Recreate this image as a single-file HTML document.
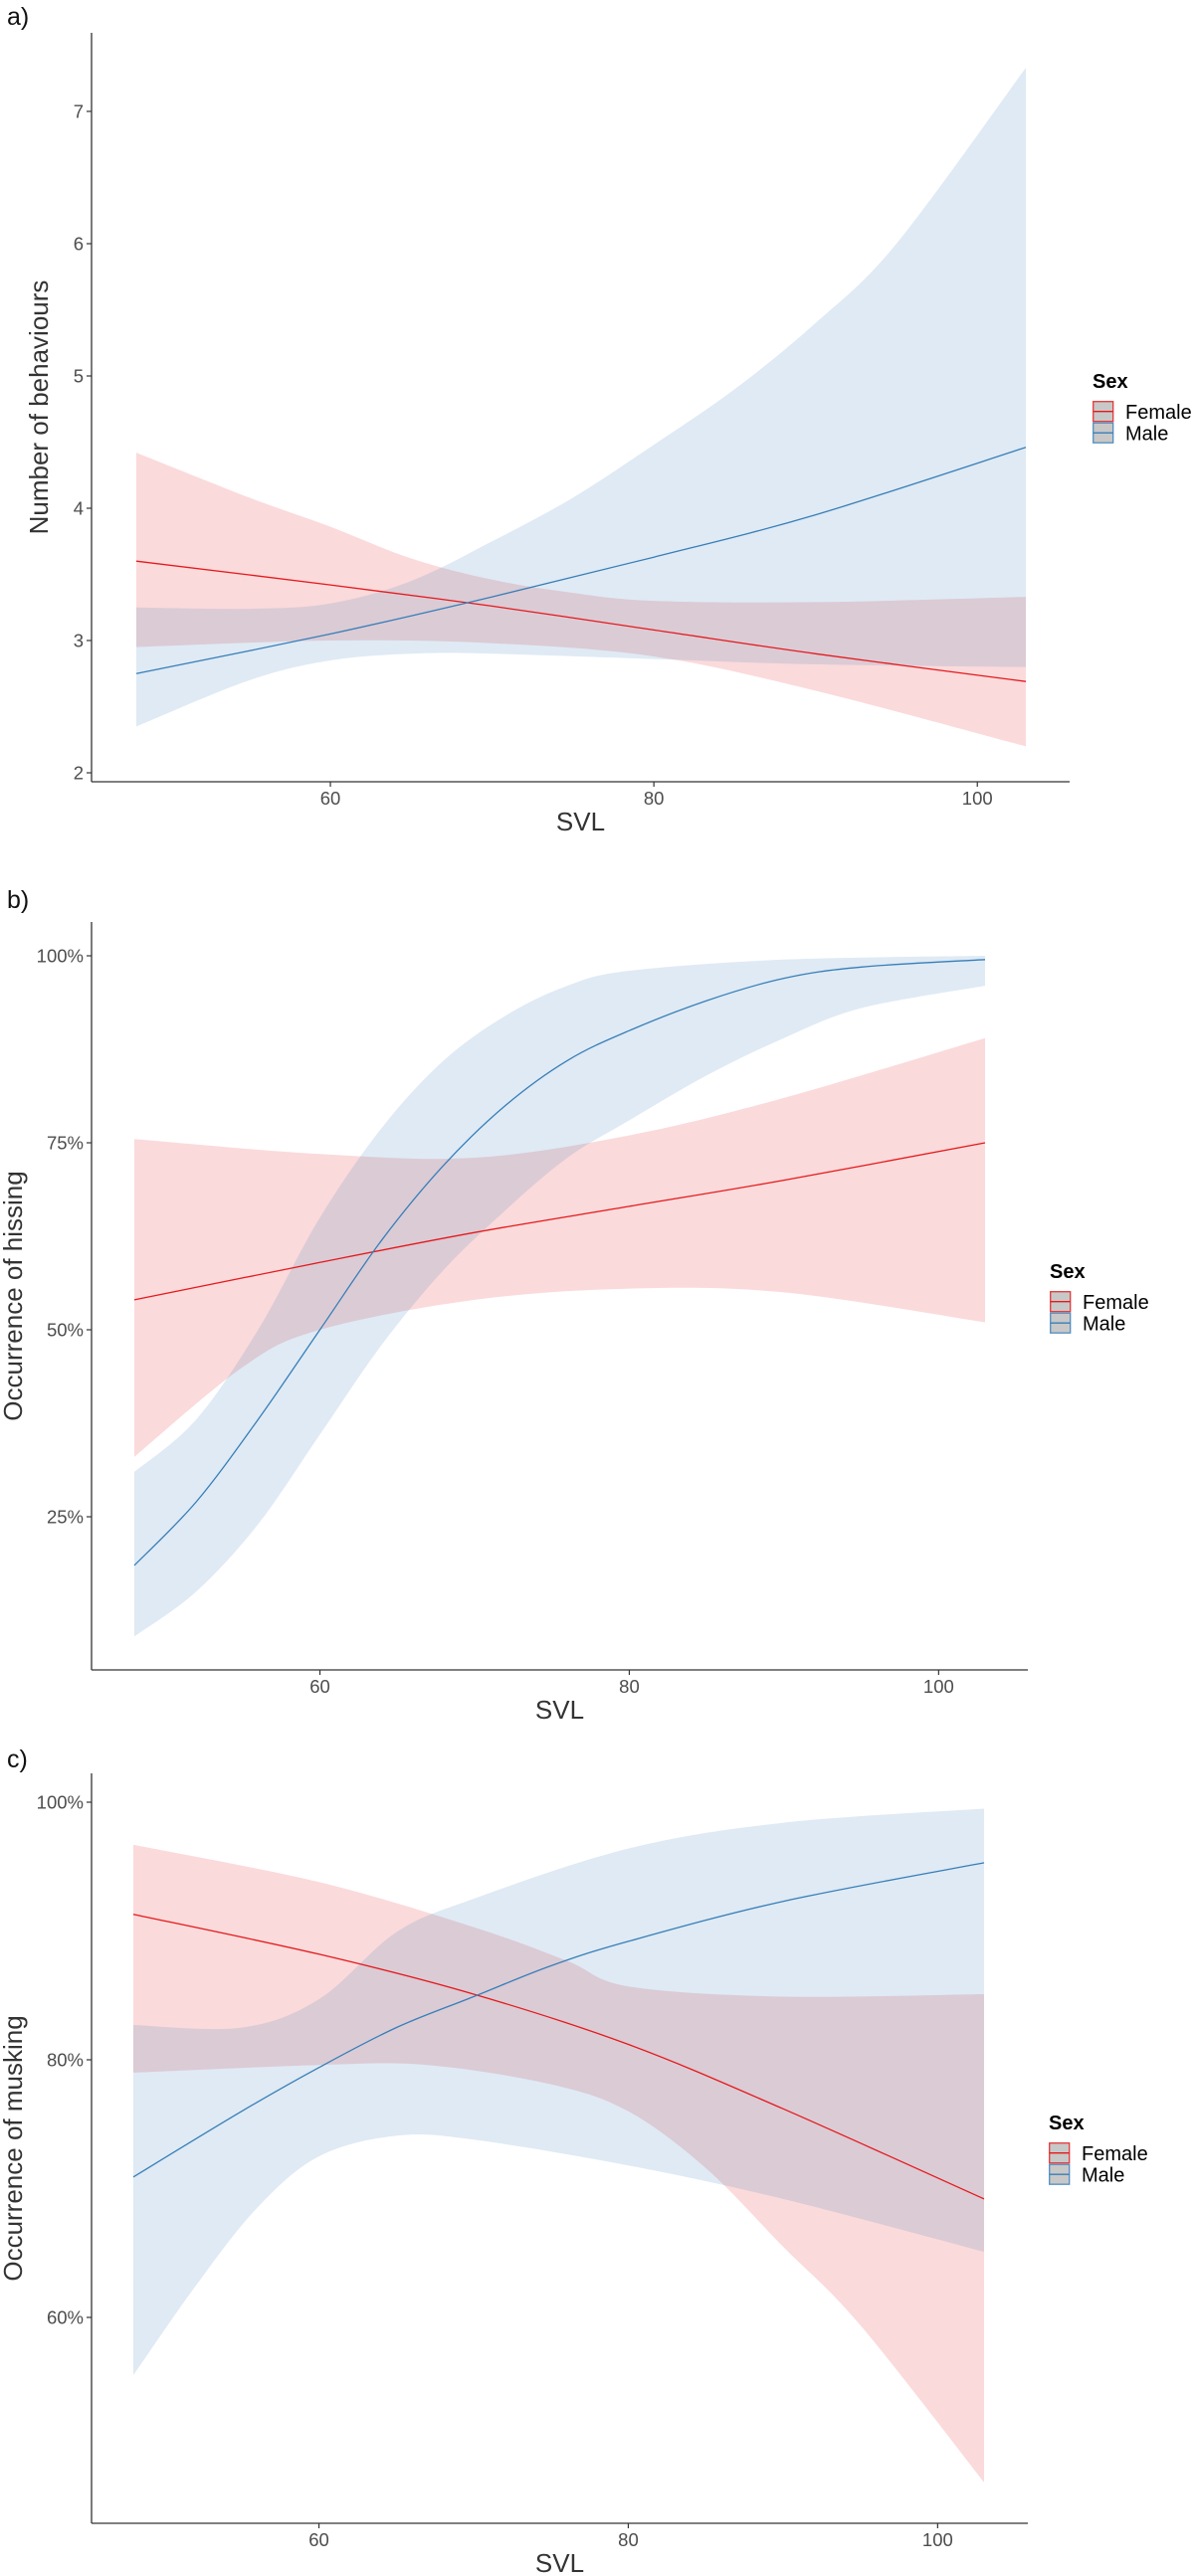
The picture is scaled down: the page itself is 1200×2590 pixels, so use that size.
<!DOCTYPE html>
<html><head><meta charset="utf-8"><style>
html,body{margin:0;padding:0;background:#fff;}
svg{display:block;font-family:"Liberation Sans",Arial,sans-serif;}
</style></head><body>
<svg id="fig" width="1200" height="2590" viewBox="0 0 1200 2590"></svg>
<script>
// ---------- Panel a data (Number of behaviours) ----------
const aFemaleX = [48, 60, 70, 80, 90, 103];
const aFemaleFit = [3.6, 3.42, 3.26, 3.08, 2.9, 2.69];
const aFemaleUpX = [48, 55, 60, 65, 70, 75, 80, 90, 103];
const aFemaleUp = [4.42, 4.08, 3.86, 3.62, 3.46, 3.36, 3.3, 3.29, 3.33];
const aFemaleLoX = [48, 60, 70, 80, 90, 103];
const aFemaleLo = [2.95, 3.0, 2.98, 2.88, 2.62, 2.2];
const aMaleX = [48, 60, 70, 80, 90, 103];
const aMaleFit = [2.75, 3.05, 3.33, 3.63, 3.95, 4.46];
const aMaleUpX = [48, 55, 60, 65, 70, 75, 80, 85, 90, 95, 103];
const aMaleUp = [3.25, 3.24, 3.28, 3.45, 3.75, 4.08, 4.48, 4.9, 5.4, 6.0, 7.33];
const aMaleLoX = [48, 55, 60, 65, 70, 80, 90, 103];
const aMaleLo = [2.35, 2.7, 2.85, 2.9, 2.9, 2.86, 2.82, 2.8];
const aYTicks = [2, 3, 4, 5, 6, 7];
const aYTickLabels = ["2", "3", "4", "5", "6", "7"];

// ---------- Panel b data (Occurrence of hissing, %) ----------
const bFemaleX = [48, 60, 70, 80, 90, 103];
const bFemaleFit = [54, 59, 63, 66.5, 70, 75];
const bFemaleUpX = [48, 60, 70, 80, 90, 103];
const bFemaleUp = [75.5, 73.5, 73, 76, 81, 89];
const bFemaleLoX = [48, 55, 60, 70, 80, 90, 103];
const bFemaleLo = [33, 45, 50, 54, 55.5, 55, 51];
const bMaleX = [48, 52, 56, 60, 64, 68, 72, 76, 80, 85, 90, 95, 103];
const bMaleFit = [18.5, 27, 38, 50, 62, 72, 80, 86, 90, 94, 97, 98.5, 99.5];
const bMaleUpX = [48, 52, 56, 60, 64, 68, 72, 76, 80, 90, 103];
const bMaleUp = [31, 38, 50, 65, 77, 86, 92, 96, 98, 99.5, 100];
const bMaleLoX = [48, 52, 56, 60, 64, 68, 72, 76, 80, 85, 90, 95, 103];
const bMaleLo = [9, 15, 24, 36, 48, 58, 66, 73, 78, 84, 89, 93, 96];
const bYTicks = [25, 50, 75, 100];
const bYTickLabels = ["25%", "50%", "75%", "100%"];

// ---------- Panel c data (Occurrence of musking, %) ----------
const cFemaleX = [48, 60, 70, 80, 90, 103];
const cFemaleFit = [91.3, 88.2, 85.1, 81.2, 76.2, 69.2];
const cFemaleUpX = [48, 60, 70, 76, 80, 90, 103];
const cFemaleUp = [96.7, 93.8, 90.3, 87.7, 85.7, 84.9, 85.1];
const cFemaleLoX = [48, 60, 67, 75, 80, 85, 90, 95, 103];
const cFemaleLo = [79, 79.6, 79.6, 78.1, 76, 71.6, 65.5, 59.4, 47.2];
const cMaleX = [48, 55, 60, 65, 70, 75, 80, 90, 103];
const cMaleFit = [70.9, 76, 79.4, 82.5, 84.9, 87.3, 89.2, 92.3, 95.3];
const cMaleUpX = [48, 55, 60, 65, 70, 80, 90, 103];
const cMaleUp = [82.7, 82.5, 84.7, 89.9, 92.5, 96.4, 98.4, 99.5];
const cMaleLoX = [48, 52, 56, 60, 65, 70, 80, 90, 103];
const cMaleLo = [55.5, 62.4, 68.5, 72.5, 74.1, 73.8, 71.8, 69.2, 65.1];
const cYTicks = [60, 80, 100];
const cYTickLabels = ["60%", "80%", "100%"];

const xTicks = [60, 80, 100];
const xTickLabels = ["60", "80", "100"];

const NS = "http://www.w3.org/2000/svg";
const svg = document.getElementById("fig");
const RED = "#E41A1C", BLUE = "#377EB8";

function mk(tag, attrs, parent) {
  const e = document.createElementNS(NS, tag);
  for (const k in attrs) e.setAttribute(k, attrs[k]);
  (parent || svg).appendChild(e);
  return e;
}
function scale(d0, d1, r0, r1) { return v => r0 + (v - d0) * (r1 - r0) / (d1 - d0); }
function pts(xs, ys, sx, sy) { return xs.map((x, i) => [sx(x), sy(ys[i])]); }
function spline(p) {
  let d = "M" + p[0][0].toFixed(1) + "," + p[0][1].toFixed(1);
  for (let i = 0; i < p.length - 1; i++) {
    const p0 = p[i - 1] || p[i], p1 = p[i], p2 = p[i + 1], p3 = p[i + 2] || p2;
    const c1 = [p1[0] + (p2[0] - p0[0]) / 6, p1[1] + (p2[1] - p0[1]) / 6];
    const c2 = [p2[0] - (p3[0] - p1[0]) / 6, p2[1] - (p3[1] - p1[1]) / 6];
    d += "C" + c1.map(v => v.toFixed(1)).join(",") + " " + c2.map(v => v.toFixed(1)).join(",") + " " + p2[0].toFixed(1) + "," + p2[1].toFixed(1);
  }
  return d;
}
function splineRev(p) { return spline(p.slice().reverse()).replace(/^M/, "L"); }

function panel(cfg) {
  const g = mk("g", {});
  
  
  const sx = scale(48, 103, cfg.x48, cfg.x103);
  const sy = scale(cfg.yv0, cfg.yv1, cfg.yp0, cfg.yp1);
  const ribbons = [
    [cfg.fUx, cfg.fU, cfg.fLx, cfg.fL, RED, "female-confidence-band"],
    [cfg.mUx, cfg.mU, cfg.mLx, cfg.mL, BLUE, "male-confidence-band"]];
  ribbons.forEach(r => {
    const up = pts(r[0], r[1], sx, sy), lo = pts(r[2], r[3], sx, sy);
    const p = mk("path", { d: spline(up) + splineRev(lo) + "Z", fill: r[4], "fill-opacity": 0.16, stroke: "none" }, g);
    
    
  });
  const lf = mk("path", { d: spline(pts(cfg.fx, cfg.fFit, sx, sy)), fill: "none", stroke: RED, "stroke-width": 1.3 }, g);
  
  
  const lm = mk("path", { d: spline(pts(cfg.mx, cfg.mFit, sx, sy)), fill: "none", stroke: BLUE, "stroke-width": 1.3 }, g);
  
  
  const ya = mk("line", { x1: 92, x2: 92, y1: cfg.top, y2: cfg.bottom, stroke: "#333", "stroke-width": 1.3 }, g);
  
  
  const xa = mk("line", { x1: 92, x2: cfg.right, y1: cfg.bottom, y2: cfg.bottom, stroke: "#333", "stroke-width": 1.3 }, g);
  
  
  cfg.yt.forEach((v, i) => {
    const y = sy(v);
    mk("line", { x1: 87, x2: 92, y1: y, y2: y, stroke: "#333", "stroke-width": 1.2 }, g);
    const t = mk("text", { x: 84, y: y + 6.5, "text-anchor": "end", "font-size": 18.5, fill: "#4d4d4d" }, g);
    t.textContent = cfg.ytl[i];
    
    
  });
  xTicks.forEach((v, i) => {
    const x = sx(v);
    mk("line", { x1: x, x2: x, y1: cfg.bottom, y2: cfg.bottom + 5, stroke: "#333", "stroke-width": 1.2 }, g);
    const t = mk("text", { x: x, y: cfg.bottom + 23, "text-anchor": "middle", "font-size": 18.5, fill: "#4d4d4d" }, g);
    t.textContent = xTickLabels[i];
    
    
  });
  const xt = mk("text", { x: (92 + cfg.right) / 2, y: cfg.bottom + 49, "text-anchor": "middle", "font-size": 26, fill: "#333" }, g);
  xt.textContent = "SVL";
  
  
  const cy = (cfg.top + cfg.bottom) / 2;
  const yt = mk("text", { x: 0, y: 0, "text-anchor": "middle", "font-size": 26, fill: "#333",
    transform: "translate(" + cfg.ytx + "," + cy + ") rotate(-90)" }, g);
  yt.textContent = cfg.ytitle;
  
  
  const pl = mk("text", { x: 7, y: cfg.lblY, "font-size": 25, fill: "#111" }, g);
  pl.textContent = cfg.label;
  
  
  const lg = mk("g", {}, g);
  
  
  const lx = cfg.legX, ly = cfg.legY;
  const st = mk("text", { x: lx, y: ly, "font-size": 20, "font-weight": "bold", fill: "#000" }, lg);
  st.textContent = "Sex";
  
  
  [["Female", RED], ["Male", BLUE]].forEach((e, i) => {
    const by = ly + 13 + i * 21.5;
    const eg = mk("g", {}, lg);
    
    
    mk("rect", { x: lx + 0.7, y: by + 0.7, width: 20, height: 20, fill: "#c8c8c8", stroke: e[1], "stroke-width": 1.3, "stroke-opacity": 0.85 }, eg);
    mk("line", { x1: lx + 0.7, x2: lx + 20.7, y1: by + 10.7, y2: by + 10.7, stroke: e[1], "stroke-width": 1.3 }, eg);
    const tt = mk("text", { x: lx + 33, y: by + 18, "font-size": 20, fill: "#000" }, eg);
    tt.textContent = e[0];
  });
}

panel({ name: "panel-a-behaviours", label: "a)", lblY: 25, x48: 137, x103: 1031, yv0: 7, yv1: 2, yp0: 112, yp1: 777,
  top: 33, bottom: 786, right: 1075, ytx: 48, ytitle: "Number of behaviours", yt: aYTicks, ytl: aYTickLabels,
  fx: aFemaleX, fFit: aFemaleFit, fUx: aFemaleUpX, fU: aFemaleUp, fLx: aFemaleLoX, fL: aFemaleLo,
  mx: aMaleX, mFit: aMaleFit, mUx: aMaleUpX, mU: aMaleUp, mLx: aMaleLoX, mL: aMaleLo,
  legX: 1098, legY: 390 });

panel({ name: "panel-b-hissing", label: "b)", lblY: 913, x48: 135, x103: 990, yv0: 100, yv1: 25, yp0: 961, yp1: 1525,
  top: 927, bottom: 1679, right: 1033, ytx: 22, ytitle: "Occurrence of hissing", yt: bYTicks, ytl: bYTickLabels,
  fx: bFemaleX, fFit: bFemaleFit, fUx: bFemaleUpX, fU: bFemaleUp, fLx: bFemaleLoX, fL: bFemaleLo,
  mx: bMaleX, mFit: bMaleFit, mUx: bMaleUpX, mU: bMaleUp, mLx: bMaleLoX, mL: bMaleLo,
  legX: 1055, legY: 1285 });

panel({ name: "panel-c-musking", label: "c)", lblY: 1777, x48: 134, x103: 989, yv0: 100, yv1: 60, yp0: 1812, yp1: 2330,
  top: 1783, bottom: 2537, right: 1033, ytx: 22, ytitle: "Occurrence of musking", yt: cYTicks, ytl: cYTickLabels,
  fx: cFemaleX, fFit: cFemaleFit, fUx: cFemaleUpX, fU: cFemaleUp, fLx: cFemaleLoX, fL: cFemaleLo,
  mx: cMaleX, mFit: cMaleFit, mUx: cMaleUpX, mU: cMaleUp, mLx: cMaleLoX, mL: cMaleLo,
  legX: 1054, legY: 2141 });
</script>
</body></html>
